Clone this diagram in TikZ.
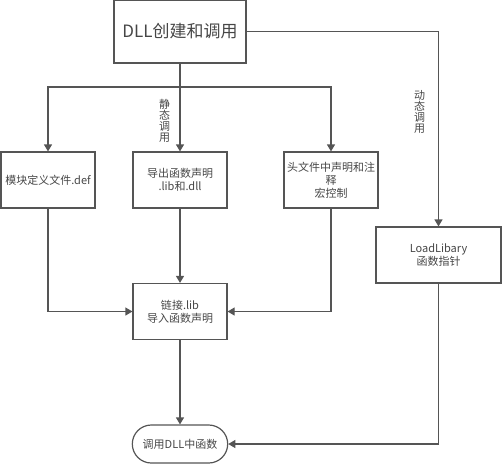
\documentclass[tikz,border=0pt]{standalone}
\usepackage{fontspec}
\setmainfont{Noto Sans CJK SC}
\usetikzlibrary{arrows.meta,shapes.misc}
\definecolor{linegray}{RGB}{85,85,85}
\definecolor{textgray}{RGB}{70,70,70}
\tikzset{
  block/.style={draw=linegray, line width=1.2pt, minimum width=94pt, minimum height=56pt,
    text width=90pt, align=center, inner sep=2pt, text=textgray, font=\fontsize{11}{13}\selectfont},
  flow/.style={draw=linegray, line width=1.2pt, -{Triangle[length=7pt,width=8pt]}},
  vlabel/.style={text width=1em, align=center, inner sep=0pt, text=textgray, font=\fontsize{11}{11}\selectfont}
}
\begin{document}
\begin{tikzpicture}[x=1pt,y=-1pt]
  \useasboundingbox (0,0) rectangle (502,464);
  \node[block, minimum width=132pt, minimum height=63pt, text width=126pt,
    font=\fontsize{17}{20}\selectfont] (dll) at (180,31.5) {DLL创建和调用};
  \node[block] (def) at (48,180) {模块定义文件.def};
  \node[block] (exp) at (180,180) {导出函数声明\\.lib和.dll};
  \node[block] (hdr) at (331,180) {头文件中声明和注\\释\\宏控制};
  \node[block, minimum width=125pt] (load) at (438.5,255) {LoadLibary\\函数指针};
  \node[block] (lnk) at (180,311.5) {链接.lib\\导入函数声明};
  \node[block, rounded rectangle, minimum height=38pt] (call) at (180,444) {调用DLL中函数};
  \node[vlabel] (static) at (164,121) {静\\态\\调\\用};
  \node[vlabel] (dynamic) at (419,112) {动\\态\\调\\用};

  \coordinate (split) at (180,87);
  \draw[linegray, line width=1.2pt] (dll.south) -- (split);
  \draw[flow] (split) -| (def.north);
  \draw[flow] (split) -- (exp.north);
  \draw[flow] (split) -| (hdr.north);
  \draw[flow] (dll.east) -| (load.north);
  \draw[flow] (def.south) |- (lnk.west);
  \draw[flow] (exp.south) -- (lnk.north);
  \draw[flow] (hdr.south) |- (lnk.east);
  \draw[flow] (lnk.south) -- (call.north);
  \draw[flow] (load.south) |- (call.east);
\end{tikzpicture}
\end{document}
